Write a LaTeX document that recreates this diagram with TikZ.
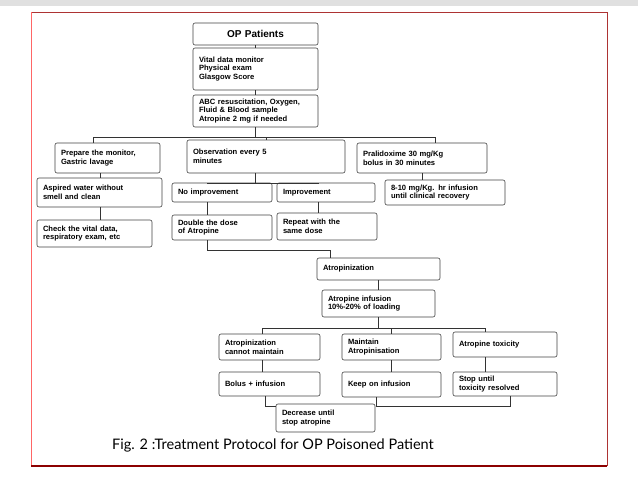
\documentclass[tikz,border=0pt]{standalone}
\usepackage{fontspec}
\setmainfont{Liberation Sans}
\newfontfamily\capfont{Lato}
\usetikzlibrary{positioning}
\begin{document}
\begin{tikzpicture}[x=1pt,y=-1pt,
    box/.style={draw=black!75,rounded corners=2pt,line width=0.6pt,align=left,inner xsep=6pt,inner ysep=3pt,
        font=\fontsize{7.6}{8.6}\selectfont\bfseries,minimum width=#1,text width=\dimexpr#1-12pt\relax},
    box/.default=90pt,
    ln/.style={draw=black!80,line width=0.6pt}]
\useasboundingbox (0,0) rectangle (638,478);
\fill[black!12] (0,0) rectangle (638,6);
\draw[red!60!black!80,line width=0.8pt] (31,12) -- (607,12) -- (607,466);
\draw[red!60,line width=0.8pt] (31,12) -- (31,466);
\draw[red!55!black,line width=1.5pt] (31,466) -- (607,466);

\node[box=125pt,minimum height=22pt,align=center,font=\fontsize{10}{11}\selectfont\bfseries] (op) at (255.5,34) {OP Patients};
\node[box=125pt,minimum height=42pt] (vital) at (255.5,69) {Vital data monitor\\Physical exam\\Glasgow Score};
\node[box=125pt,minimum height=32pt] (abc) at (255.5,111) {ABC resuscitation, Oxygen,\\Fluid \& Blood sample\\Atropine 2 mg if needed};

\node[box=105pt,minimum height=30pt] (prep) at (107.5,158) {Prepare the monitor,\\Gastric lavage};
\node[box=158pt,minimum height=33pt] (obs) at (266,156.5) {Observation every 5\\minutes};
\node[box=130pt,minimum height=30pt] (pral) at (422,158) {Pralidoxime 30 mg/Kg\\bolus in 30 minutes};

\node[box=125pt,minimum height=29pt] (asp) at (99.5,192.5) {Aspired water without\\smell and clean};
\node[box=115pt,minimum height=27pt] (check) at (94.5,233.5) {Check the vital data,\\respiratory exam, etc};
\node[box=100pt,minimum height=19pt] (noimp) at (222,192.5) {No improvement};
\node[box=98pt,minimum height=19pt] (imp) at (326,192.5) {Improvement};
\node[box=100pt,minimum height=25pt] (double) at (222,227.5) {Double the dose\\of Atropine};
\node[box=100pt,minimum height=27pt] (repeat) at (327,226.5) {Repeat with the\\same dose};
\node[box=120pt,minimum height=25pt] (inf) at (445,192.5) {8-10 mg/Kg. hr infusion\\until clinical recovery};

\node[box=123pt,minimum height=22pt] (atro) at (378.5,269) {Atropinization};
\node[box=113pt,minimum height=27pt] (atinf) at (378.5,303.5) {Atropine infusion\\10\%-20\% of loading};

\node[box=101pt,minimum height=26pt] (cannot) at (269.5,347) {Atropinization\\cannot maintain};
\node[box=99pt,minimum height=26pt] (maint) at (391.5,347) {Maintain\\Atropinisation};
\node[box=104pt,minimum height=25pt] (tox) at (505,344.5) {Atropine toxicity};
\node[box=101pt,minimum height=24pt] (bolus) at (269.5,384) {Bolus + infusion};
\node[box=99pt,minimum height=25pt] (keep) at (391.5,384.5) {Keep on infusion};
\node[box=104pt,minimum height=24pt] (stop) at (505,384) {Stop until\\toxicity resolved};
\node[box=99pt,minimum height=28pt] (decr) at (325.5,418) {Decrease until\\stop atropine};

\node[font=\capfont\fontsize{14.5}{16}\selectfont] (cap) at (273,445) {Fig. 2 :Treatment Protocol for OP Poisoned Patient};

% connectors
\draw[ln] (op) -- (vital);
\draw[ln] (vital) -- (abc);
\coordinate (b1) at (255.5,137);
\draw[ln] (abc.south) -- (b1);
\draw[ln] (b1) -| ([xshift=-14pt]prep.north);
\draw[ln] (b1) -| (obs.north);
\draw[ln] (b1) -| ([xshift=13pt]pral.north);
\draw[ln] ([xshift=-7pt]prep.south) -- ([xshift=-7pt]prep.south |- asp.north);
\draw[ln] ([xshift=-7pt]prep.south |- asp.south) -- ([xshift=-7pt]prep.south |- check.north);
\coordinate (b2) at (255,183);
\draw[ln] (obs.south -| b2) -- (b2);
\draw[ln] (b2) -| ([xshift=-15pt]noimp.north);
\draw[ln] (b2) -| ([xshift=-8pt]imp.north);
\draw[ln] ([xshift=-15pt]noimp.south) -- ([xshift=-15pt]double.north);
\draw[ln] ([xshift=-8pt]imp.south) -- ([xshift=-8pt]imp.south |- repeat.north);
\draw[ln] (pral.south) -- (pral.south |- inf.north);
\draw[ln] ([xshift=-15pt]double.south) |- (330,250) -- (330,250 |- atro.north);
\draw[ln] (atro) -- (atinf);
\coordinate (b3) at (378.5,328);
\draw[ln] (atinf.south) -- (b3);
\draw[ln] (b3) -| ([xshift=-7pt]cannot.north);
\draw[ln] (b3) -| (maint.north);
\draw[ln] (b3) -| ([xshift=-20pt]tox.north);
\draw[ln] ([xshift=-7pt]cannot.south) -- ([xshift=-7pt]bolus.north);
\draw[ln] (maint.south) -- (keep.north);
\draw[ln] ([xshift=-20pt]tox.south) -- ([xshift=-20pt]stop.north);
\draw[ln] ([xshift=-4pt]bolus.south) |- (decr.west |- 0,406);
\draw[ln] ([xshift=-15pt]keep.south) |- ([xshift=5pt]stop.south |- 0,406) -- ([xshift=5pt]stop.south);
\end{tikzpicture}
\end{document}
